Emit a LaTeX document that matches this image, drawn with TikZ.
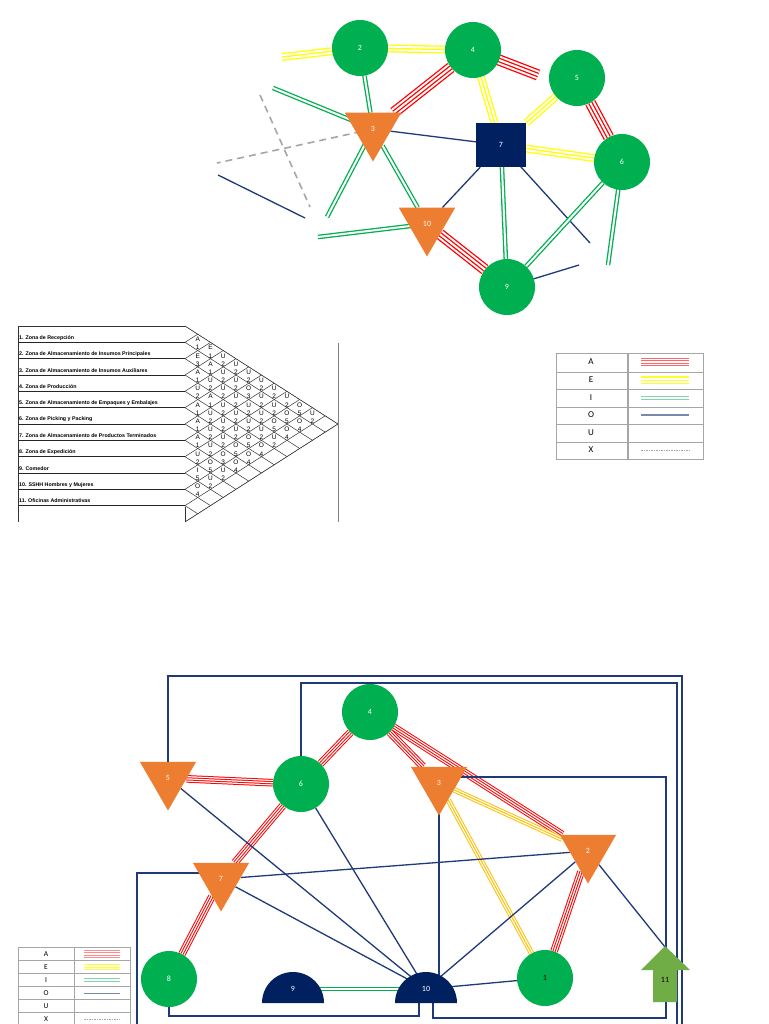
\documentclass[tikz,border=0pt]{standalone}
\usepackage{fontspec}
\setmainfont{Carlito}
\newfontfamily\chartfont{Liberation Sans}
\usetikzlibrary{shapes.geometric,calc}
\pgfdeclarelayer{bg}
\pgfsetlayers{bg,main}
\definecolor{gr}{HTML}{00B050}
\definecolor{org}{HTML}{ED7D31}
\definecolor{navy}{HTML}{002060}
\definecolor{ln}{HTML}{1F3A78}
\definecolor{yl}{HTML}{FFFF00}
\definecolor{yb}{HTML}{FFC000}
\definecolor{grn11}{HTML}{70AD47}
\tikzset{
  circ/.style={circle,fill=gr,minimum size=56pt,inner sep=0pt,text=white,font=\fontsize{8}{9}\selectfont},
  tri/.style={regular polygon,regular polygon sides=3,shape border rotate=180,fill=org,minimum size=65pt,inner sep=0pt,text=white,font=\fontsize{8}{9}\selectfont},
  sq/.style={rectangle,fill=navy,minimum width=50pt,minimum height=44pt,text=white,font=\fontsize{8}{9}\selectfont},
  lbl/.style={inner sep=1pt,text=white,font=\fontsize{8}{9}\selectfont},
  A/.style={line width=2pt,draw=white,preaction={draw=#1,line width=11.2pt},preaction={draw=white,line width=8.6pt},preaction={draw=#1,line width=4.6pt}},
  A/.default=red,
  E/.style={line width=1.3pt,draw=#1,preaction={draw=#1,line width=7.9pt},preaction={draw=white,line width=5.3pt}},
  E/.default=yl,
  I/.style={line width=2pt,draw=white,preaction={draw=#1,line width=4.6pt}},
  I/.default=gr,
  Ab/.style={line width=1.2pt,draw=white,preaction={draw=#1,line width=7.6pt},preaction={draw=white,line width=5.6pt},preaction={draw=#1,line width=3.2pt}},
  Ab/.default=red,
  Eb/.style={line width=1pt,draw=#1,preaction={draw=#1,line width=5.4pt},preaction={draw=white,line width=3.4pt}},
  Eb/.default=yb,
  Ib/.style={line width=1.2pt,draw=white,preaction={draw=#1,line width=3.2pt}},
  Ib/.default=gr,
  O/.style={draw=ln,line width=1.3pt},
  X/.style={draw=gray!70,line width=1.6pt,dash pattern=on 7pt off 5pt},
  grid/.style={draw=black!80,line width=0.5pt},
  chtxt/.style={inner sep=0pt,font=\chartfont\fontsize{6.5}{6.5}\selectfont},
  chlbl/.style={inner sep=0pt,anchor=west,font=\chartfont\bfseries\fontsize{5.3}{6}\selectfont},
  tab/.style={draw=black!35,line width=0.8pt},
  lgt/.style={inner sep=0pt,font=\fontsize{9}{10}\selectfont},
}
\begin{document}
\begin{tikzpicture}[x=1pt,y=-1pt]
\useasboundingbox (0,0) rectangle (768,1024);
\begin{pgfonlayer}{bg}
\fill[white] (0,0) rectangle (768,1024);
\end{pgfonlayer}

% ---------------- top diagram ----------------
\node[circ] (t2) at (360,48) {2};
\node[circ] (t4) at (473,50) {4};
\node[circ] (t5) at (577,78) {5};
\node[circ] (t6) at (622,162) {6};
\node[circ] (t9) at (507,287) {9};
\node[tri] (t3) at (373,129) {3};
\node[tri] (t10) at (427,224) {10};
\node[sq] (t7) at (501,145) {7};
\coordinate (f2) at (282,57);
\coordinate (f4) at (538,75);
\coordinate (f3a) at (273,88);
\coordinate (f3b) at (327,217);
\coordinate (fx1) at (217,163);
\coordinate (fxa) at (260,95);
\coordinate (fxb) at (310,207);
\coordinate (fba) at (218,175);
\coordinate (fbb) at (305,218);
\coordinate (f7) at (590,243);
\coordinate (f6) at (608,265);
\coordinate (f9) at (579,265);
\coordinate (f10) at (318,237);
\begin{pgfonlayer}{bg}
\draw[E] (t2.center) -- (f2);
\draw[E] (t2) -- (t4);
\draw[A] (t4.center) -- (f4);
\draw[I] (t2) -- (t3);
\draw[A] (t4) -- (t3);
\draw[I] (t3.center) -- (f3a);
\draw[I] (t3.center) -- (f3b);
\draw[X] (t3.center) -- (fx1);
\draw[X] (fxa) -- (fxb);
\draw[O] (fba) -- (fbb);
\draw[O] (t3) -- (t7);
\draw[I] (t3) -- (t10);
\draw[E] (t4) -- (t7);
\draw[E] (t5) -- (t7);
\draw[A] (t5) -- (t6);
\draw[E] (t7) -- (t6);
\draw[O] (t7) -- (t10);
\draw[I] (t7) -- (t9);
\draw[O] (t7.center) -- (f7);
\draw[I] (t6) -- (t9);
\draw[I] (t6.center) -- (f6);
\draw[O] (t9.center) -- (f9);
\draw[A] (t10) -- (t9);
\draw[I] (t10.center) -- (f10);
\end{pgfonlayer}

% ---------------- relationship chart ----------------
\draw[black!80,line width=0.6pt] (18,326) -- (185,326);
\draw[black!80,line width=0.6pt] (18,326) -- (18,522);
\foreach \t [count=\i] in {1. Zona de Recepción,2. Zona de Almacenamiento de Insumos Principales,3. Zona de Almacenamiento de Insumos Auxiliares,4. Zona de Producción,5. Zona de Almacenamiento de Empaques y Embalajes,6. Zona de Picking y Packing,7. Zona de Almacenamiento de Productos Terminados,8. Zona de Expedición,9. Comedor,10. SSHH Hombres y Mujeres,11. Oficinas Administrativas}{
  \node[chlbl] (cl\i) at (19,326+16.33*\i-4.6) {\t};
  \draw[black!85,line width=0.7pt] (18,326+16.33*\i) -- (185,326+16.33*\i);
}
\begin{scope}
\clip (185,326) -- (338,424) -- (185,522) -- cycle;
\foreach \k in {0,...,12}{
  \draw[grid] (185,326+16.33*\k) -- ++(170,108.9);
  \draw[grid] (185,326+16.33*\k) -- ++(170,-108.9);
}
\end{scope}
\draw[grid] (185,326) -- (338,424) -- (185,522);
\draw[grid,line width=0.8pt] (185,507) -- (185,522);
\draw[black!50,line width=0.8pt] (338,343) -- (338,522);
\foreach \items [count=\k from 0] in {{A},{1,E},{E,1,U},{3,A,2,U},{A,1,U,2,U},{1,U,2,U,2,U},{U,2,U,2,O,2,U},{2,A,2,U,3,U,2,U},{A,1,U,2,U,2,U,2,O},{1,U,2,U,2,U,2,O,5,U},{A,2,U,2,U,2,O,5,O,2},{1,U,2,U,2,U,5,O,4},{A,2,U,2,O,2,U,4},{1,U,2,O,5,O,2},{U,2,O,5,O,4},{2,O,3,O,4},{I,5,U,4},{5,U,2},{O,2},{4}}{
  \foreach \t [count=\m from 0] in \items {
    \node[chtxt] (ct\k-\m) at (197.75+12.75*\m,339.5+8.17*\k) {\t};
  }
}

% ---------------- right legend ----------------
\draw[tab] (556,353) rectangle (703,459);
\draw[tab,line width=1.2pt] (628,353) -- (628,459);
\foreach \y in {372,389,407,424,442}{\draw[tab] (556,\y) -- (703,\y);}
\foreach \t/\y in {A/362,E/380,I/398,O/415,U/433,X/450}{\node[lgt] (lr\t) at (591,\y) {\t};}
\coordinate (la1) at (641,362); \coordinate (la2) at (689,362);
\coordinate (le1) at (641,380); \coordinate (le2) at (689,380);
\coordinate (li1) at (641,398); \coordinate (li2) at (689,398);
\coordinate (lo1) at (641,415); \coordinate (lo2) at (689,415);
\coordinate (lx1) at (641,450); \coordinate (lx2) at (689,450);
\draw[Ab=red!60] (la1) -- (la2);
\draw[E=yl!85,line width=1pt,preaction={draw=yl!85,line width=7pt},preaction={draw=white,line width=5pt}] (le1) -- (le2);
\draw[Ib=gr!50] (li1) -- (li2);
\draw[ln!60,line width=1.2pt] (lo1) -- (lo2);
\draw[gray!70,line width=0.6pt,dash pattern=on 1.5pt off 1pt] (lx1) -- (lx2);

% ---------------- bottom diagram ----------------
\node[circ] (b4) at (370,712) {4};
\node[circ] (b6) at (301,784) {6};
\node[circ] (b8) at (169,979) {8};
\node[circ,text=black] (b1) at (545,978) {1};
\node[tri] (b5) at (168,778) {5};
\node[tri] (b3) at (439,783) {3};
\node[tri] (b2) at (588,851) {2};
\node[tri] (b7) at (221,879) {7};
\fill[navy] (262,1003) arc[start angle=180,end angle=360,radius=31] -- cycle;
\fill[navy] (395,1003) arc[start angle=180,end angle=360,radius=31] -- cycle;
\node[lbl] (b9) at (293,989) {9};
\node[lbl] (b10) at (426,989) {10};
\fill[grn11] (641,970) -- (665,946) -- (690,970) -- (677,970) -- (677,1002) -- (653,1002) -- (653,970) -- cycle;
\node[lbl,text=black] (b11) at (665,980) {11};
\coordinate (b11t) at (665,947);
\coordinate (r5) at (682,676);  \coordinate (e5) at (682,1024);
\coordinate (r6) at (677,683);  \coordinate (e6) at (677,1024);
\coordinate (r3) at (666,1018); \coordinate (e3) at (433,1003);
\coordinate (e7) at (137,1024);
\coordinate (r8) at (419,1016); \coordinate (e8) at (419,1003);
\begin{pgfonlayer}{bg}
\draw[Ab] (b4) -- (b6);
\draw[Ab] (b4) -- (b3);
\draw[Ab] (b4) -- (b2);
\draw[Ab] (b6) -- (b5);
\draw[Ab] (b6) -- (b7);
\draw[Ab] (b7) -- (b8);
\draw[Ab] (b2) -- (b1);
\draw[Eb] (b3) -- (b2);
\draw[Eb] (b3) -- (b1);
\draw[Ib] (b9) -- (b10);
\draw[O] (b5) -- (b10);
\draw[O] (b6) -- (b10);
\draw[O] (b3.center) -- (b3 |- b10);
\draw[O] (b7) -- (b10);
\draw[O] (b2) -- (b10);
\draw[O] (b1) -- (b10);
\draw[O] (b2) -- (b7);
\draw[O] (b2) -- (b11t);
\draw[O] (b5.center) |- (r5) -- (e5);
\draw[O] (b6.center) |- (r6) -- (e6);
\draw[O] ($(b3.center)+(0,-6)$) -| (r3) -| (e3);
\draw[O] ($(b7.center)+(0,-6)$) -| (e7);
\draw[O] (b8.center) |- (r8) -- (e8);
\end{pgfonlayer}

% ---------------- bottom-left legend ----------------
\draw[tab,line width=0.6pt] (18,947) rectangle (130,1030);
\draw[tab,line width=0.6pt] (74,947) -- (74,1030);
\foreach \y in {960,973,986,999,1012}{\draw[tab,line width=0.6pt] (18,\y) -- (130,\y);}
\foreach \t/\y in {A/954,E/967,I/980,O/993,U/1006,X/1019}{\node[lgt,font=\fontsize{7.5}{8}\selectfont] (ll\t) at (46,\y) {\t};}
\coordinate (ma1) at (84,954); \coordinate (ma2) at (120,954);
\coordinate (me1) at (84,967); \coordinate (me2) at (120,967);
\coordinate (mi1) at (84,980); \coordinate (mi2) at (120,980);
\coordinate (mo1) at (84,993); \coordinate (mo2) at (120,993);
\coordinate (mx1) at (84,1019); \coordinate (mx2) at (120,1019);
\draw[Ab=red!45] (ma1) -- (ma2);
\draw[Eb=yl!80] (me1) -- (me2);
\draw[Ib=gr!50] (mi1) -- (mi2);
\draw[ln!60,line width=1pt] (mo1) -- (mo2);
\draw[gray!70,line width=0.5pt,dash pattern=on 1.5pt off 1pt] (mx1) -- (mx2);
\end{tikzpicture}
\end{document}
